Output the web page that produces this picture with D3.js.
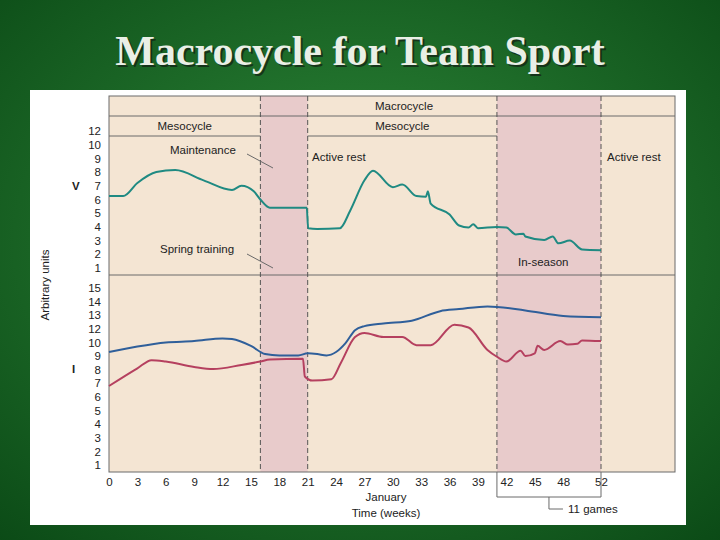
<!DOCTYPE html>
<html><head><meta charset="utf-8">
<script src="https://cdn.jsdelivr.net/npm/d3@7"></script>
<style>body{margin:0;}svg{display:block;}</style>
</head><body>
<svg id="c" width="720" height="540"></svg>
<script>
// values; y values are in scale positions (see tick labels)
const vTrain = [[0,6.25],[1.5,6.25],[3,7.2],[5,8.0],[7,8.15],[10,7.4],[13,6.7],[14,7.0],[15.3,6.6],[16,6.0],[17,5.4],[20.9,5.4],[21.05,3.9],[22,3.85],[24.4,3.9],[25.5,5.2],[27,7.4],[27.9,8.1],[30,6.9],[31,7.1],[32.5,6.25],[33.5,6.2],[33.7,6.6],[34,5.7],[36,4.9],[37,4.1],[38,3.95],[38.5,4.2],[39,3.9],[41,4.0],[42,3.95],[43,3.45],[43.8,3.5],[44,3.3],[46,3.05],[46.9,3.3],[47.5,2.8],[48.7,3.0],[50,2.35],[52,2.3]];
const iBlue = [[0,9.3],[3,9.7],[6,10.0],[9,10.1],[12,10.3],[13,10.25],[15,9.75],[16.5,9.15],[18,9.05],[20,9.05],[21,9.2],[22,9.15],[23,9.05],[24,9.3],[25,9.95],[26,10.9],[27,11.2],[29,11.4],[32,11.6],[35,12.3],[37,12.45],[40,12.65],[44,12.35],[48,11.95],[52,11.85]];
const iRed = [[0,6.8],[3,8.1],[4.5,8.7],[6,8.6],[9,8.2],[11,8.05],[14,8.35],[16,8.6],[17,8.75],[20.5,8.8],[20.7,7.5],[21.5,7.2],[23.5,7.3],[24.5,8.5],[26,10.4],[27,10.7],[29,10.4],[31,10.4],[32.5,9.8],[34,9.8],[36.5,11.3],[38,11.1],[40,9.45],[41,8.95],[42,8.6],[43.5,9.4],[44,9.0],[45,9.2],[45.3,9.75],[46,9.45],[47.7,10.1],[48.5,9.85],[49.5,9.9],[50,10.15],[52,10.1]];
const xTicks = [0,3,6,9,12,15,18,21,24,27,30,33,36,39,42,45,48,52];
const vTickLabels = ["1","2","3","4","5","6","7","8","9","10","12"];
const iTickLabels = ["1","2","3","4","5","6","7","8","9","10","12","13","14","15"];
const phases = [[16,21],[41,52]];
const dashes = [16,21,41,52];

const svg = d3.select("#c");
const defs = svg.append("defs");
const g = defs.append("radialGradient").attr("id","bg").attr("cx","50%").attr("cy","45%").attr("r","75%");
g.append("stop").attr("offset","0%").attr("stop-color","#2f8a3a");
g.append("stop").attr("offset","100%").attr("stop-color","#0b4a16");
svg.append("rect").attr("width",720).attr("height",540).attr("fill","url(#bg)");
svg.append("text").attr("x",362).attr("y",67).attr("text-anchor","middle").attr("font-family","Liberation Serif").attr("font-weight","bold").attr("font-size",42).attr("fill","#111").attr("opacity",0.6).text("Macrocycle for Team Sport");
svg.append("text").attr("x",360).attr("y",65).attr("text-anchor","middle").attr("font-family","Liberation Serif").attr("font-weight","bold").attr("font-size",42).attr("fill","#e9efe6").text("Macrocycle for Team Sport");

svg.append("rect").attr("x",30).attr("y",90).attr("width",656).attr("height",435).attr("fill","#fff");

const x = d3.scaleLinear().domain([0,52]).range([109,601]);
const pLeft = 109, pRight = 675, pTop = 96, pMid = 275, pBottom = 472;
const yV = d3.scaleLinear().domain([1,11]).range([268,131]);
const yI = d3.scaleLinear().domain([1,14]).range([465,288]);
const font = "Liberation Sans";

svg.append("rect").attr("x",pLeft).attr("y",pTop).attr("width",pRight-pLeft).attr("height",pBottom-pTop).attr("fill","#f4e5d3");
svg.selectAll("rect.ph").data(phases).join("rect").attr("class","ph")
  .attr("x",d=>x(d[0])).attr("width",d=>x(d[1])-x(d[0])).attr("y",pTop).attr("height",pBottom-pTop).attr("fill","#e8cbcb");

const ln = (x1,y1,x2,y2) => svg.append("line").attr("x1",x1).attr("y1",y1).attr("x2",x2).attr("y2",y2).attr("stroke","#6a6a6a").attr("stroke-width",1);
ln(pLeft,116,pRight,116);
ln(pLeft,136,x(16),136);
ln(x(21),136,x(41),136);
ln(pLeft,pMid,pRight,pMid);
svg.append("rect").attr("x",pLeft).attr("y",pTop).attr("width",pRight-pLeft).attr("height",pBottom-pTop).attr("fill","none").attr("stroke","#6a6a6a");
svg.selectAll("line.dash").data(dashes).join("line").attr("class","dash")
  .attr("x1",d=>x(d)).attr("x2",d=>x(d)).attr("y1",pTop).attr("y2",pBottom)
  .attr("stroke","#555").attr("stroke-dasharray","5,3");

const txt = (s,tx,ty,opt={}) => svg.append("text").attr("x",tx).attr("y",ty).attr("font-family",font).attr("font-size",opt.size||11.5).attr("text-anchor",opt.anchor||"start").attr("font-weight",opt.bold?"bold":"normal").attr("fill","#222").text(s);
txt("Macrocycle",404,110,{anchor:"middle"});
txt("Mesocycle",(pLeft+x(16))/2,130,{anchor:"middle"});
txt("Mesocycle",(x(21)+x(41))/2,130,{anchor:"middle"});
txt("Maintenance",170,154);
ln(247,154,273,168);
txt("Spring training",160,253);
ln(247,254,273,268);
txt("Active rest",312,161);
txt("Active rest",607,161);
txt("In-season",518,266);
txt("V",72,190,{bold:true});
txt("I",72,373,{bold:true});
svg.append("text").attr("transform","translate(49,285) rotate(-90)").attr("text-anchor","middle").attr("font-family",font).attr("font-size",11.5).attr("fill","#222").text("Arbitrary units");

// axes without domain/tick marks
const yAxV = d3.axisLeft(yV).tickValues(d3.range(1,12)).tickFormat((d,i)=>vTickLabels[i]).tickSize(0).tickPadding(8);
const yAxI = d3.axisLeft(yI).tickValues(d3.range(1,15)).tickFormat((d,i)=>iTickLabels[i]).tickSize(0).tickPadding(8);
const xAx = d3.axisBottom(x).tickValues(xTicks).tickSize(0).tickPadding(6);
[[yAxV,`translate(${pLeft},0)`],[yAxI,`translate(${pLeft},0)`],[xAx,`translate(0,${pBottom})`]].forEach(([a,t])=>{
  const gg = svg.append("g").attr("transform",t).call(a);
  gg.select(".domain").remove();
  gg.selectAll("text").attr("font-family",font).attr("font-size",11.5).attr("fill","#222");
});
txt("January",386,501,{anchor:"middle"});
txt("Time (weeks)",386,517,{anchor:"middle"});

// 11 games bracket
ln(x(41),pBottom,x(41),497); ln(x(52),pBottom,x(52),497); ln(x(41),497,x(52),497);
ln(x(46.5),497,x(46.5),509); ln(x(46.5),509,x(46.5)+14,509);
txt("11 games",568,513);

const line = y => d3.line().x(d=>x(d[0])).y(d=>y(d[1])).curve(d3.curveMonotoneX);
svg.append("path").attr("d",line(yV)(vTrain)).attr("fill","none").attr("stroke","#1f8a82").attr("stroke-width",2);
svg.append("path").attr("d",line(yI)(iBlue)).attr("fill","none").attr("stroke","#2f5f9a").attr("stroke-width",2);
svg.append("path").attr("d",line(yI)(iRed)).attr("fill","none").attr("stroke","#b5405f").attr("stroke-width",2);
</script>
</body></html>
